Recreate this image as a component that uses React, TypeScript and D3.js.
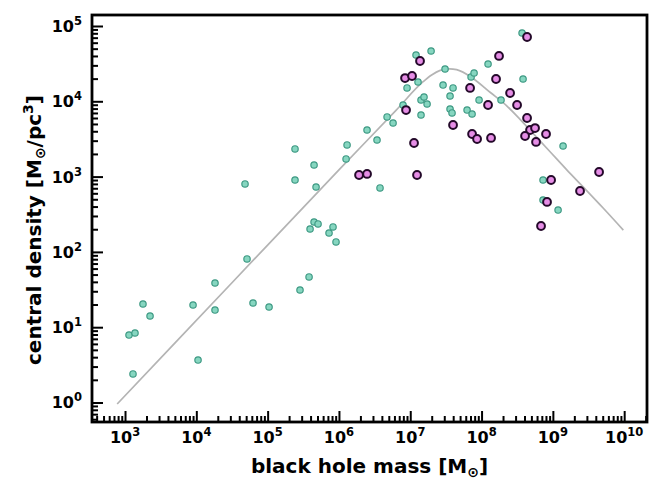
import React, { useEffect, useRef } from "react";
import * as d3 from "d3";

// values are log10
const tealLogMass = [3.056, 3.14, 3.112, 3.252, 3.351, 3.954, 4.024, 4.262, 4.262, 4.683, 4.711, 4.795, 5.02, 5.384, 5.384, 5.454, 5.581, 5.595, 5.651, 5.707, 5.651, 5.679, 5.861, 5.917, 5.959, 6.114, 6.1, 6.394, 6.534, 6.576, 6.675, 6.759, 6.899, 6.955, 7.109, 7.081, 7.292, 7.151, 7.193, 7.236, 7.151, 7.488, 7.46, 7.6, 7.558, 7.558, 7.586, 7.797, 7.867, 7.965, 7.853, 7.895, 8.091, 8.273, 8.582, 8.568, 8.862, 8.862, 9.073, 9.143];
const tealLogDensity = [0.896, 0.923, 0.379, 1.308, 1.149, 1.295, 0.564, 1.587, 1.228, 2.902, 1.906, 1.321, 1.268, 3.367, 2.955, 1.494, 1.667, 2.304, 2.397, 2.371, 3.154, 2.862, 2.251, 2.331, 2.132, 3.42, 3.234, 3.619, 3.486, 2.849, 3.792, 3.712, 3.951, 4.177, 4.256, 4.615, 4.668, 4.017, 4.057, 3.964, 3.818, 4.429, 4.216, 4.177, 4.07, 3.898, 3.845, 3.884, 3.831, 4.017, 4.323, 4.376, 4.495, 4.017, 4.296, 4.907, 2.955, 2.689, 2.556, 3.406];

const purpleLogMass = [6.282, 6.394, 6.927, 7.025, 7.137, 6.941, 7.053, 7.095, 7.6, 7.867, 7.937, 8.133, 7.839, 8.091, 8.203, 8.245, 8.4, 8.498, 8.638, 8.638, 8.68, 8.75, 8.61, 8.764, 8.904, 8.975, 8.918, 8.834, 9.381, 9.648];
const purpleLogDensity = [3.021, 3.035, 4.309, 4.336, 4.535, 3.884, 3.446, 3.021, 3.685, 3.566, 3.499, 3.513, 4.177, 3.951, 4.296, 4.602, 4.11, 3.951, 4.854, 3.778, 3.619, 3.645, 3.539, 3.46, 3.566, 2.955, 2.663, 2.344, 2.809, 3.061];

const curveLogMass = [2.89, 4.5, 6.0, 6.8, 7.18, 7.3, 7.42, 7.55, 7.65, 7.885, 8.119, 8.353, 8.54, 8.726, 8.961, 9.195, 9.428, 9.708, 9.988];
const curveLogDensity = [-0.02, 1.59, 3.09, 3.88, 4.26, 4.35, 4.41, 4.43, 4.42, 4.3, 4.12, 3.94, 3.76, 3.57, 3.33, 3.09, 2.86, 2.58, 2.29];

const xTickExponents = [3, 4, 5, 6, 7, 8, 9, 10];
const yTickExponents = [0, 1, 2, 3, 4, 5];

export default function App() {
  const ref = useRef<SVGSVGElement>(null);

  useEffect(() => {
    const svg = d3.select(ref.current);
    svg.selectAll("*").remove();

    const width = 664,
      height = 498;
    const margin = { top: 15, right: 17, bottom: 76, left: 92 };
    const font = "'DejaVu Sans', sans-serif";

    const x = d3
      .scaleLog()
      .domain([10 ** 2.537, 10 ** 10.32])
      .range([margin.left, width - margin.right]);
    const y = d3
      .scaleLog()
      .domain([10 ** -0.259, 10 ** 5.146])
      .range([height - margin.bottom, margin.top]);

    const minors = (dom: number[], from: number, to: number) => {
      const out: number[] = [];
      for (let k = from; k <= to; k++)
        for (let m = 2; m <= 9; m++) {
          const v = m * 10 ** k;
          if (v > dom[0] && v < dom[1]) out.push(v);
        }
      return out;
    };

    // model curve
    const line = d3
      .line<number>()
      .x((d, i) => x(10 ** curveLogMass[i]))
      .y((d) => y(10 ** d))
      .curve(d3.curveMonotoneX);
    svg
      .append("path")
      .attr("d", line(curveLogDensity))
      .attr("fill", "none")
      .attr("stroke", "#b4b4b4")
      .attr("stroke-width", 1.7);

    // points
    svg
      .append("g")
      .selectAll("circle")
      .data(tealLogMass)
      .join("circle")
      .attr("cx", (d) => x(10 ** d))
      .attr("cy", (d, i) => y(10 ** tealLogDensity[i]))
      .attr("r", 3.2)
      .attr("fill", "#86d6c0")
      .attr("stroke", "#3f9a84")
      .attr("stroke-width", 1.2);

    svg
      .append("g")
      .selectAll("circle")
      .data(purpleLogMass)
      .join("circle")
      .attr("cx", (d) => x(10 ** d))
      .attr("cy", (d, i) => y(10 ** purpleLogDensity[i]))
      .attr("r", 3.9)
      .attr("fill", "#e68de6")
      .attr("stroke", "#24092a")
      .attr("stroke-width", 2);

    // ticks (inward)
    const xDom = x.domain(),
      yDom = y.domain();
    const tickGroup = (g: any) =>
      g.call((s: any) => s.select(".domain").remove())
        .selectAll("line")
        .attr("stroke", "#000")
        .attr("stroke-width", 2);

    svg
      .append("g")
      .attr("transform", `translate(0,${height - margin.bottom})`)
      .call(d3.axisBottom(x).tickValues(xTickExponents.map((e) => 10 ** e)).tickSize(-11).tickFormat(() => ""))
      .call(tickGroup);
    svg
      .append("g")
      .attr("transform", `translate(0,${height - margin.bottom})`)
      .call(d3.axisBottom(x).tickValues(minors(xDom, 2, 10)).tickSize(-6).tickFormat(() => ""))
      .call(tickGroup);
    svg
      .append("g")
      .attr("transform", `translate(${margin.left},0)`)
      .call(d3.axisLeft(y).tickValues(yTickExponents.map((e) => 10 ** e)).tickSize(-11).tickFormat(() => ""))
      .call(tickGroup);
    svg
      .append("g")
      .attr("transform", `translate(${margin.left},0)`)
      .call(d3.axisLeft(y).tickValues(minors(yDom, -1, 5)).tickSize(-6).tickFormat(() => ""))
      .call(tickGroup);

    // tick labels
    const xl = svg
      .append("g")
      .selectAll("text")
      .data(xTickExponents)
      .join("text")
      .attr("x", (d) => x(10 ** d))
      .attr("y", 443)
      .attr("text-anchor", "middle")
      .attr("font-family", font)
      .attr("font-weight", "bold")
      .attr("font-size", 16);
    xl.append("tspan").text("10");
    xl.append("tspan").attr("dy", -7).attr("font-size", 11.5).text((d) => d);

    const yl = svg
      .append("g")
      .selectAll("text")
      .data(yTickExponents)
      .join("text")
      .attr("x", 82)
      .attr("y", (d) => y(10 ** d) + 6)
      .attr("text-anchor", "end")
      .attr("font-family", font)
      .attr("font-weight", "bold")
      .attr("font-size", 16);
    yl.append("tspan").text("10");
    yl.append("tspan").attr("dy", -7).attr("font-size", 11.5).text((d) => d);

    // axis titles
    const xt = svg
      .append("text")
      .attr("x", (margin.left + width - margin.right) / 2)
      .attr("y", 473)
      .attr("text-anchor", "middle")
      .attr("font-family", font)
      .attr("font-weight", "bold")
      .attr("font-size", 20);
    xt.append("tspan").text("black hole mass [M");
    xt.append("tspan").attr("dy", 4).attr("font-size", 14).text("⊙");
    xt.append("tspan").attr("dy", -4).text("]");

    const yt = svg
      .append("text")
      .attr("transform", `translate(41,230) rotate(-90)`)
      .attr("text-anchor", "middle")
      .attr("font-family", font)
      .attr("font-weight", "bold")
      .attr("font-size", 20);
    yt.append("tspan").text("central density [M");
    yt.append("tspan").attr("dy", 4).attr("font-size", 14).text("⊙");
    yt.append("tspan").attr("dy", -4).text("/pc");
    yt.append("tspan").attr("dy", -8).attr("font-size", 14).text("3");
    yt.append("tspan").attr("dy", 8).text("]");

    // frame
    svg
      .append("rect")
      .attr("x", margin.left)
      .attr("y", margin.top)
      .attr("width", width - margin.left - margin.right)
      .attr("height", height - margin.top - margin.bottom)
      .attr("fill", "none")
      .attr("stroke", "#000")
      .attr("stroke-width", 2.8);
  }, []);

  return (
    <svg
      ref={ref}
      width={664}
      height={498}
      style={{ position: "absolute", left: 0, top: 0, background: "#fff" }}
    />
  );
}
